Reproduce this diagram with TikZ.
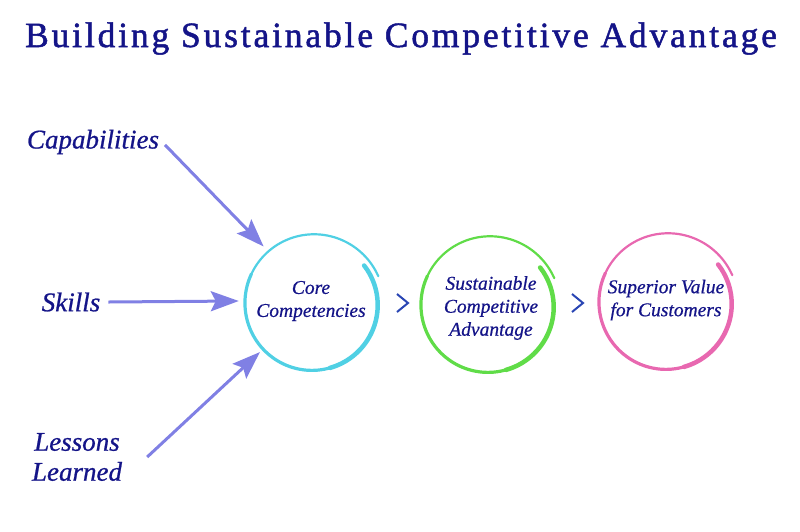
\documentclass[tikz,border=0pt]{standalone}
\usepackage{fontspec}
\setmainfont{Liberation Serif}
\usetikzlibrary{arrows.meta}

\definecolor{navy}{RGB}{20,20,136}
\definecolor{feedblue}{RGB}{128,128,228}
\definecolor{chevblue}{RGB}{42,70,180}
\definecolor{ringcyan}{RGB}{80,208,228}
\definecolor{ringgreen}{RGB}{96,220,72}
\definecolor{ringpink}{RGB}{232,104,176}

\tikzset{
    source/.style={text=navy, font=\fontsize{27}{32}\selectfont\itshape\addfontfeature{FakeBold=0.8}, align=center, inner sep=3pt},
    hub/.style={circle, minimum size=144pt, text=navy, font=\fontsize{19.5}{23}\selectfont\itshape\addfontfeature{FakeBold=0.6}, align=center, inner sep=0pt},
    feed/.style={draw=feedblue, line width=3pt, -{Stealth[length=28pt, width=20pt, inset=5pt]}},
    chevron/.style={draw=chevblue, line width=2pt}
}

\begin{document}
\begin{tikzpicture}[x=1pt, y=-1pt]
        \useasboundingbox (0,0) rectangle (800,531);

        %title
        \node[text=navy, anchor=base, inner sep=0pt, font=\fontsize{35.5}{42}\selectfont\addfontfeature{LetterSpace=8,FakeBold=1.4}] (title) at (401,47) {Building Sustainable Competitive Advantage};

        %inputs
        \node[source] (cap) at (93,142) {Capabilities};
        \node[source] (skl) at (71,302) {Skills};
        \node[source] (les) at (77,457) {Lessons\\[-2pt]Learned};

        %circles
        \node[hub] (core) at (311,301) {Core\\Competencies};
        \node[hub] (sca) at (491,308) {Sustainable\\Competitive\\Advantage};
        \node[hub] (value) at (666,300) {Superior Value\\for Customers};

        %rings
        \foreach \cx/\cy/\col in {313/304/ringcyan, 489/306/ringgreen, 667/303/ringpink}
            \foreach \a/\b/\w in {0/0.3/4.5, 0.3/0.65/3.2, 0.65/1/2.2}
                \draw[\col, line width=\w pt, line cap=round]
                    plot[smooth, domain=\a:\b, samples=25, variable=\s]
                    ({\cx+(64+7*\s)*cos(37-374*\s)}, {\cy-(64+7*\s)*sin(37-374*\s)});

        %arrows
        \draw[feed, shorten <=4pt] (cap.east) -- (core.131);
        \draw[feed] ([xshift=5pt]skl.east) -- (core.180);
        \draw[feed] ([xshift=22pt]les.east) -- (core.225);

        %chevrons
        \draw[chevron] (397,294) -- (408,303) -- (397,312);
        \draw[chevron] (572,294) -- (583,303) -- (572,312);

\end{tikzpicture}
\end{document}
